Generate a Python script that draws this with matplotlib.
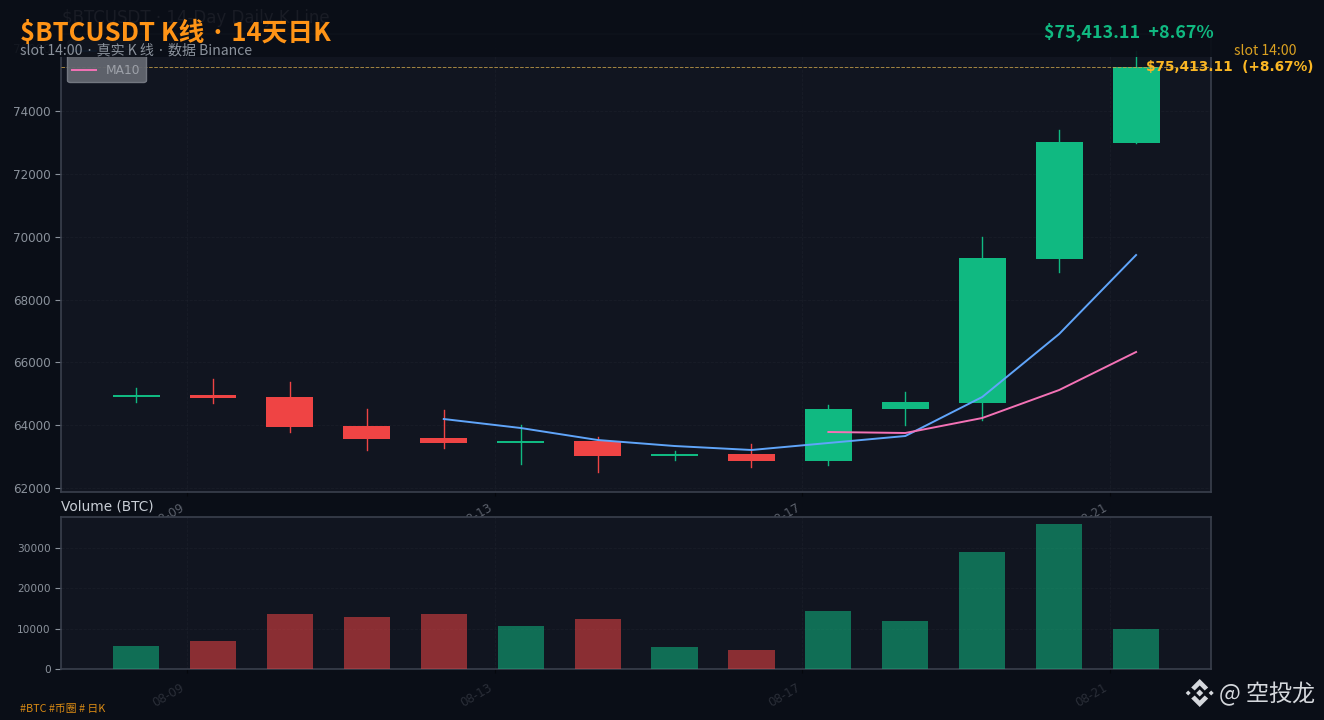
import matplotlib
matplotlib.use('Agg')
from matplotlib import pyplot as plt
from matplotlib.patches import Rectangle, Polygon

# daily candles, x = days after 08-09
days = [-0.66, 0.34, 1.34, 2.34, 3.34, 4.34, 5.34, 6.34, 7.34, 8.34, 9.34, 10.34, 11.34, 12.34]
opens = [64897, 64961, 64897, 63974, 63592, 63432, 63496, 63019, 63083, 62860, 64515, 64706, 69290, 72981]
closes = [64961, 64865, 63942, 63560, 63432, 63496, 63019, 63083, 62860, 64515, 64738, 69321, 73013, 75413]
highs = [65184, 65470, 65374, 64515, 64483, 64005, 63624, 63178, 63400, 64642, 65056, 69989, 73395, 75900]
lows = [64737, 64706, 63782, 63210, 63274, 62764, 62510, 62891, 62668, 62733, 64005, 64165, 68875, 72975]
volumes = [5700, 6950, 13600, 12900, 13600, 10650, 12400, 5450, 4700, 14400, 11900, 29000, 36000, 9900]
ma5 = [64196, 63910, 63528, 63337, 63210, 63433, 63655, 64897, 66902, 69416]
ma10 = [63783, 63751, 64228, 65119, 66329]
tick_days = [0, 4, 8, 12]
tick_labels = ['08-09', '08-13', '08-17', '08-21']
price_ticks = [62000, 64000, 66000, 68000, 70000, 72000, 74000, 76000]
vol_ticks = [0, 10000, 20000, 30000]

BG = '#0a0e17'
PANEL = '#111520'
GREEN = '#10b981'
RED = '#ef4444'
EDGE = '#3a404d'
GREY = '#8b929c'
CJK = ['Noto Sans CJK JP', 'DejaVu Sans']

fig = plt.figure(figsize=(13.24, 7.2), dpi=100, facecolor=BG)
W, H = 1324.0, 720.0


def axes_px(left, top, right, bottom):
    return fig.add_axes([left / W, 1 - bottom / H, (right - left) / W, (bottom - top) / H])


ax = axes_px(61, 34, 1211, 492)
vx = axes_px(61, 517, 1211, 669)

for a in (ax, vx):
    a.set_facecolor(PANEL)
    a.set_xlim(-1.636, 13.314)
    a.set_xticks(tick_days)
    a.set_xticklabels(tick_labels, rotation=30, ha='right')
    a.grid(True, color='#262b36', lw=0.6, ls='--', alpha=0.35)
    a.set_axisbelow(True)
    for s in a.spines.values():
        s.set_color(EDGE)
        s.set_linewidth(1.2)

ax.set_ylim(61873, 76451)
ax.set_yticks(price_ticks)
ax.tick_params(axis='y', colors=GREY, labelsize=8.6, length=4)
ax.tick_params(axis='x', color='#05070c', labelcolor='#5b606b', labelsize=8.6, length=3)
vx.set_ylim(0, 37700)
vx.set_yticks(vol_ticks)
vx.tick_params(axis='y', colors=GREY, labelsize=7.6, length=4)
vx.tick_params(axis='x', color='#05070c', labelcolor='#2a2e38', labelsize=8.6, length=3, pad=6)
vx.set_title('Volume (BTC)', loc='left', color='#c9ced6', fontsize=9.8, pad=4.5)

for i in range(len(days)):
    c = GREEN if closes[i] >= opens[i] else RED
    ax.plot([days[i], days[i]], [lows[i], highs[i]], color=c, lw=1, zorder=2)
    ax.bar(days[i], abs(closes[i] - opens[i]), bottom=min(opens[i], closes[i]), width=0.61, color=c, zorder=3)
    vx.bar(days[i], volumes[i], width=0.6, color=c, alpha=0.55, zorder=3)

l1, = ax.plot(days[4:], ma5, color='#60a5fa', lw=1.4, label='MA5', zorder=4)
l2, = ax.plot(days[9:], ma10, color='#f472b6', lw=1.4, label='MA10', zorder=4)
leg = ax.legend(loc='upper left', fontsize=8.8, facecolor='#62666f', edgecolor='#777b84', labelcolor='#9da1a9', framealpha=0.95)
leg.set_zorder(5)

ax.axhline(closes[-1], color='#c9a24a', lw=0.7, ls='--', alpha=0.8, zorder=4)

# dark band over the top of the chart
fig.add_artist(Rectangle((0, 1 - 57 / H), 1, 57 / H, transform=fig.transFigure, facecolor='#0a0e17', alpha=0.93, edgecolor='none', zorder=10))

# ghost title shows faintly through the band
fig.text(62 / W, 1 - 23 / H, '$BTCUSDT · 14-Day Daily K Line', color='#191c25', fontsize=12, zorder=10.5)

fig.text(20 / W, 1 - 41 / H, '$BTCUSDT K线 · 14天日K', color='#ff9416', fontsize=18.5, fontweight='bold', family=CJK, zorder=11)
fig.text(20 / W, 1 - 54 / H, 'slot 14:00 · 真实 K 线 · 数据 Binance', color='#8b929c', fontsize=10.1, family=CJK, zorder=11)
fig.text(1214 / W, 1 - 37 / H, '$75,413.11  +8.67%', color=GREEN, fontsize=12.9, fontweight='bold', ha='right', family=CJK, zorder=11)
fig.text(1296 / W, 1 - 55 / H, 'slot 14:00', color='#d9a021', fontsize=10.1, ha='right', family=CJK, zorder=11)
fig.text(1313.5 / W, 1 - 71 / H, '$75,413.11  (+8.67%)', color='#fbb724', fontsize=9.8, fontweight='bold', ha='right', zorder=11)
fig.text(20 / W, 1 - 712 / H, '#BTC #币圈 # 日K', color='#d98a14', fontsize=7.8, family=CJK, zorder=11)
fig.text(1315 / W, 1 - 701 / H, '@ 空投龙', color='#d5d8dd', fontsize=16.6, ha='right', family=CJK, zorder=11)

# logo: two chevrons, two side diamonds and a centre diamond
lx, ly = 1199.7, 693
logo = [
    [(0, -14), (8.5, -5.5), (5, -2.5), (0, -7.5), (-5, -2.5), (-8.5, -5.5)],
    [(0, 14), (8.5, 5.5), (5, 2.5), (0, 7.5), (-5, 2.5), (-8.5, 5.5)],
    [(-14, 0), (-11.5, -2.5), (-9, 0), (-11.5, 2.5)],
    [(14, 0), (11.5, -2.5), (9, 0), (11.5, 2.5)],
    [(-3.5, 0), (0, -3.5), (3.5, 0), (0, 3.5)],
]
for shape in logo:
    pts = [((lx + dx) / W, 1 - (ly + dy) / H) for dx, dy in shape]
    fig.add_artist(Polygon(pts, transform=fig.transFigure, facecolor='#d5d8dd', edgecolor='none', zorder=11))

fig.savefig('out.png', dpi=100, facecolor=BG)
